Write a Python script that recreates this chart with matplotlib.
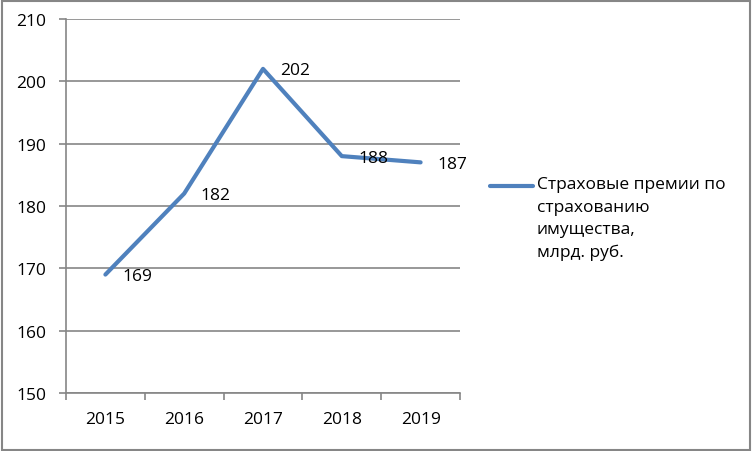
import matplotlib.pyplot as plt
import numpy as np
from matplotlib.lines import Line2D
from matplotlib.ticker import FixedLocator

plt.rcParams["font.family"] = ["Open Sans", "DejaVu Sans"]
plt.rcParams["font.size"] = 12.5

YEARS = ["2015", "2016", "2017", "2018", "2019"]
PREMIUMS = [169, 182, 202, 188, 187]
SERIES_LABEL = "Страховые премии по\nстрахованию\nимущества,\nмлрд. руб."
GRAY = "#868686"
BLUE = "#4F81BD"


def main() -> None:
    fig = plt.figure(figsize=(7.52, 4.52), dpi=100)
    ax = fig.add_axes([66 / 752, 1 - 394 / 452, 394 / 752, 374 / 452])

    x = np.arange(len(YEARS))
    ax.plot(x, PREMIUMS, color=BLUE, linewidth=3, solid_capstyle="round", zorder=3)
    for xi, value in zip(x, PREMIUMS):
        ax.annotate(str(value), (xi, value), xytext=(12, -1), textcoords="offset points",
                    ha="left", va="center")

    ax.set_xlim(-0.5, len(YEARS) - 0.5)
    ax.set_ylim(150, 210)
    ax.set_yticks(range(150, 211, 10))
    ax.yaxis.grid(True, color=GRAY, linewidth=1.2)
    ax.set_axisbelow(True)

    ax.set_xticks(x)
    ax.set_xticklabels(YEARS)
    ax.xaxis.set_minor_locator(FixedLocator(np.arange(-0.5, len(YEARS), 1.0)))
    ax.tick_params(axis="x", which="major", length=0, pad=13)
    ax.tick_params(axis="x", which="minor", length=5, width=1.2, color=GRAY)
    ax.tick_params(axis="y", length=5, width=1.2, color=GRAY, pad=9)

    for side in ("top", "right"):
        ax.spines[side].set_visible(False)
    for side in ("left", "bottom"):
        ax.spines[side].set_color(GRAY)
        ax.spines[side].set_linewidth(1.2)

    # legend drawn by hand so the key sits on the first text line, as in Excel
    key_y = 1 - 187 / 452
    fig.add_artist(Line2D([490 / 752, 533 / 752], [key_y, key_y], color=BLUE,
                          linewidth=3, solid_capstyle="round", transform=fig.transFigure))
    fig.text(537 / 752, 1 - 177 / 452, SERIES_LABEL, ha="left", va="top", linespacing=1.55)

    fig.patches.append(plt.Rectangle((0.002, 0.003), 0.995, 0.993, transform=fig.transFigure,
                                     fill=False, edgecolor=GRAY, linewidth=1.5))
    fig.savefig("out.png", dpi=100)


main() if __name__ == "__main__" else None
